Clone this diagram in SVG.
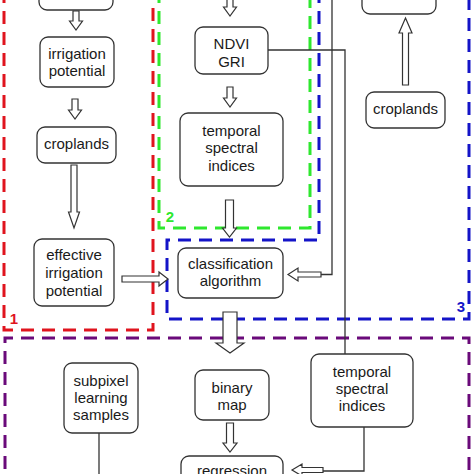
<svg xmlns="http://www.w3.org/2000/svg" width="474" height="474" viewBox="0 0 474 474">
<style>
.box{fill:#fff;stroke:#333;stroke-width:1.3}
.t{font-family:"Liberation Sans",Arial,sans-serif;font-size:15px;fill:#1a1a1a;text-anchor:middle}
.arr{fill:#fff;stroke:#333;stroke-width:1.2;stroke-linejoin:miter}
.ln{fill:none;stroke:#333;stroke-width:1.3}
.reg{fill:none;stroke-width:3;stroke-dasharray:13 8}
.lab{font-family:"Liberation Sans",Arial,sans-serif;font-size:15px;font-weight:bold;text-anchor:middle}
</style>
<rect width="474" height="474" fill="#fff"/>
<g id="regions">
<path class="reg" stroke="#e0141e" d="M4,-10 V330 H153 V-10"/>
<path class="reg" stroke="#2ee82e" d="M159,-10 V228 H310 V-10"/>
<path class="reg" stroke="#1414c8" d="M319,-10 V240 H167 V319 H469 V-10"/>
<path class="reg" stroke="#6a0a7a" d="M5,490 V338 H469 V490"/>
<text class="lab" fill="#e0141e" x="14" y="324">1</text>
<text class="lab" fill="#2ee82e" x="170" y="222">2</text>
<text class="lab" fill="#1414c8" x="461" y="312">3</text>
</g>
<g id="connectors">
<path class="ln" d="M332,-2 V274.5 H321"/>
<path class="ln" d="M268,50 H345 V354"/>
<path class="ln" d="M364,427 V471 H323" stroke="#777"/>
<path class="ln" d="M99,433 V476"/>
<polygon class="arr" points="73,11 79,11 79,21 82.5,21 76,30 69.5,21 73,21"/>
<polygon class="arr" points="72,99 78,99 78,110 81.5,110 75,119 68.5,110 72,110"/>
<polygon class="arr" points="71,165 77,165 77,212 79.5,212 74,228 68.5,212 71,212"/>
<polygon class="arr" points="227,-2 233,-2 233,7 236.5,7 230,16 223.5,7 227,7"/>
<polygon class="arr" points="227,87 233,87 233,98 236.5,98 230,107 223.5,98 227,98"/>
<polygon class="arr" points="225.5,200 233.5,200 233.5,228 236.5,228 229.5,237 222.5,228 225.5,228"/>
<polygon class="arr" points="223,312 237,312 237,343 244,343 230,353 216,343 223,343"/>
<polygon class="arr" points="226.5,423 233.5,423 233.5,443 237,443 230,452 223,443 226.5,443"/>
<polygon class="arr" points="402.5,85 408.5,85 408.5,33 412,33 405.5,18 399,33 402.5,33"/>
<polygon class="arr" points="122,276 159,276 159,272 168,279 159,286 159,282 122,282"/>
<polygon class="arr" points="321,272 298,272 298,268 288,274.5 298,281 298,277 321,277"/>
<polygon class="arr" points="323,467.5 302,467.5 302,464 292,470 302,476 302,472.5 323,472.5"/>
</g>
<g id="top-left-box"><rect class="box" x="39" y="-30" width="74" height="40" rx="8"/></g>
<g id="irrigation-potential"><rect class="box" x="40" y="37" width="74" height="50" rx="8"/>
<text class="t" x="77" y="58.5">irrigation</text><text class="t" x="77" y="75.5">potential</text></g>
<g id="croplands-left"><rect class="box" x="37" y="127" width="79" height="36" rx="8"/>
<text class="t" x="76.5" y="148.5">croplands</text></g>
<g id="effective-irrigation-potential"><rect class="box" x="34" y="239" width="80" height="67" rx="8"/>
<text class="t" x="74" y="260">effective</text><text class="t" x="74" y="278">irrigation</text><text class="t" x="74" y="295.5">potential</text></g>
<g id="ndvi-gri"><rect class="box" x="195" y="27" width="73" height="47" rx="8"/>
<text class="t" x="231.5" y="48.5">NDVI</text><text class="t" x="231.5" y="66.5">GRI</text></g>
<g id="temporal-top"><rect class="box" x="180" y="113" width="103" height="73" rx="8"/>
<text class="t" x="231.5" y="135.5">temporal</text><text class="t" x="231.5" y="153">spectral</text><text class="t" x="231.5" y="170.5">indices</text></g>
<g id="classification-algorithm"><rect class="box" x="178" y="248" width="105" height="50" rx="8"/>
<text class="t" x="230.5" y="268.5">classification</text><text class="t" x="230.5" y="285.5">algorithm</text></g>
<g id="top-right-box"><rect class="box" x="362" y="-30" width="74" height="44" rx="8"/></g>
<g id="croplands-right"><rect class="box" x="366" y="92" width="79" height="36" rx="8"/>
<text class="t" x="405.5" y="113.5">croplands</text></g>
<g id="subpixel"><rect class="box" x="64" y="363" width="74" height="70" rx="8"/>
<text class="t" x="101" y="385.5">subpixel</text><text class="t" x="101" y="402.5">learning</text><text class="t" x="101" y="419.5">samples</text></g>
<g id="binary-map"><rect class="box" x="195" y="370" width="74" height="50" rx="8"/>
<text class="t" x="232" y="392.5">binary</text><text class="t" x="232" y="409.5">map</text></g>
<g id="regression"><rect class="box" x="181" y="456" width="102" height="40" rx="8"/>
<text class="t" x="232" y="476">regression</text></g>
<g id="temporal-bottom"><rect class="box" x="311" y="354" width="102" height="73" rx="8"/>
<text class="t" x="362" y="376.5">temporal</text><text class="t" x="362" y="394">spectral</text><text class="t" x="362" y="411">indices</text></g>
</svg>
